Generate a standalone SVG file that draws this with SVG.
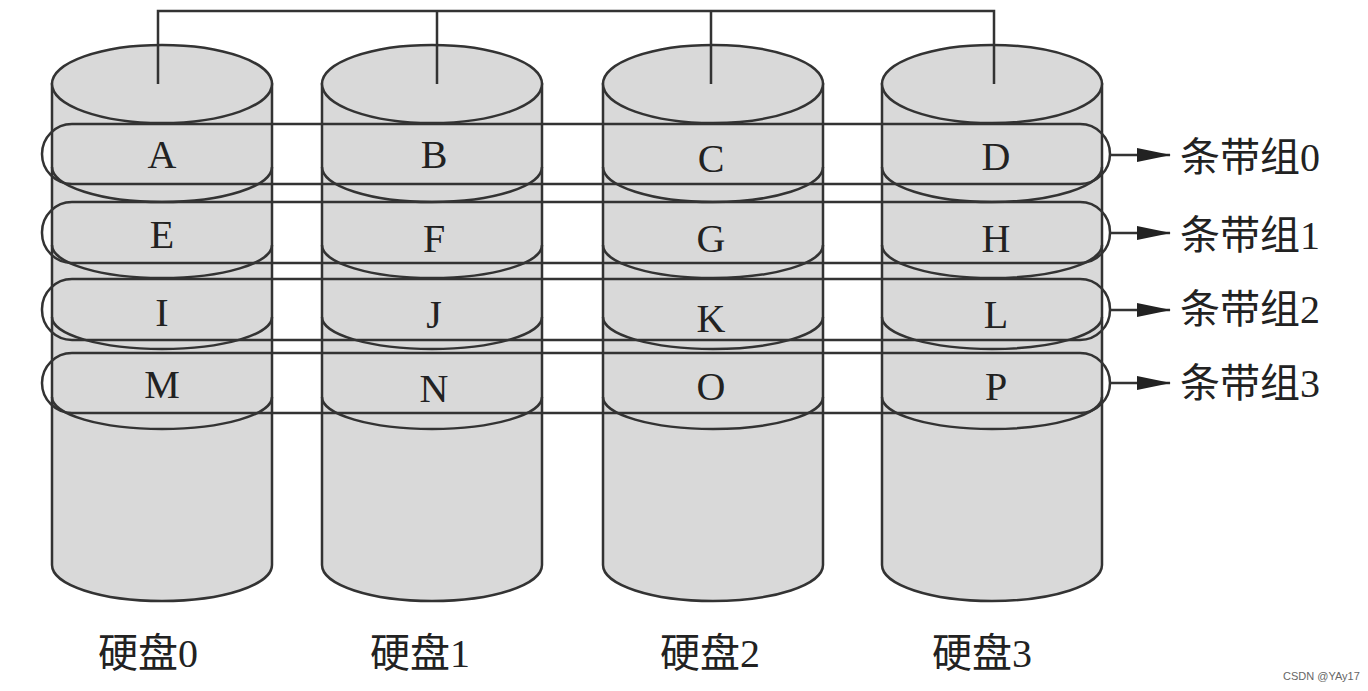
<svg xmlns="http://www.w3.org/2000/svg" width="1368" height="691" viewBox="0 0 1368 691">
<style>
.b{fill:#d9d9d9;stroke:#333;stroke-width:2.5}
.l{fill:none;stroke:#333;stroke-width:2.5}
.t{font-family:"Liberation Serif",serif;font-size:40px;fill:#222;text-anchor:middle}
.c{font-family:"Liberation Serif","Noto Sans CJK SC",serif;font-size:40px;fill:#222}
</style>
<defs>
<marker id="ah" markerWidth="34" markerHeight="14" refX="33" refY="7" orient="auto" markerUnits="userSpaceOnUse"><path d="M0,0 L34,7 L0,14Z" fill="#222"/></marker>
<g id="cyl">
<path class="b" d="M-110,84 V565 A110,36 0 0 0 110,565 V84Z"/>
<ellipse class="b" cx="0" cy="84" rx="110" ry="39"/>
<path class="l" d="M-110,167 A110,35 0 0 0 110,167 M-110,245 A110,33 0 0 0 110,245 M-110,317 A110,32 0 0 0 110,317 M-110,397 A110,32 0 0 0 110,397"/>
</g>
</defs>
<rect width="1368" height="691" fill="#fff"/>
<g id="disk0"><use href="#cyl" x="162"/></g>
<g id="disk1"><use href="#cyl" x="432"/></g>
<g id="disk2"><use href="#cyl" x="713"/></g>
<g id="disk3"><use href="#cyl" x="992"/></g>
<g id="connectors">
<path class="l" d="M158,84 V11 H994 V84 M437,11 V84 M711,11 V84"/>
<g id="bands" class="l">
<rect x="42" y="124" width="1068" height="60" rx="30"/>
<rect x="42" y="202" width="1068" height="61" rx="30"/>
<rect x="42" y="279" width="1068" height="61" rx="30"/>
<rect x="42" y="353" width="1068" height="60" rx="30"/>
</g>
<g class="l" marker-end="url(#ah)">
<path d="M1110,155 H1170"/><path d="M1110,233 H1170"/><path d="M1110,310 H1170"/><path d="M1110,383 H1170"/>
</g>
</g>
<g id="letters" class="t">
<text x="162" y="168">A</text><text x="434" y="168">B</text><text x="711" y="172">C</text><text x="996" y="170">D</text>
<text x="162" y="248">E</text><text x="434" y="252">F</text><text x="711" y="252">G</text><text x="996" y="252">H</text>
<text x="162" y="326">I</text><text x="434" y="328">J</text><text x="711" y="332">K</text><text x="996" y="328">L</text>
<text x="162" y="398">M</text><text x="434" y="402">N</text><text x="711" y="400">O</text><text x="996" y="400">P</text>
</g>
<g id="stripeLabels" class="c">
<text x="1180" y="171">条带组0</text><text x="1180" y="249">条带组1</text>
<text x="1180" y="323">条带组2</text><text x="1180" y="397">条带组3</text>
</g>
<g id="diskLabels" class="c">
<text x="98" y="667">硬盘0</text><text x="370" y="667">硬盘1</text>
<text x="660" y="667">硬盘2</text><text x="932" y="667">硬盘3</text>
</g>
<text x="1283" y="680" font-family="Liberation Sans,sans-serif" font-size="11" fill="#666">CSDN @YAy17</text>
</svg>
